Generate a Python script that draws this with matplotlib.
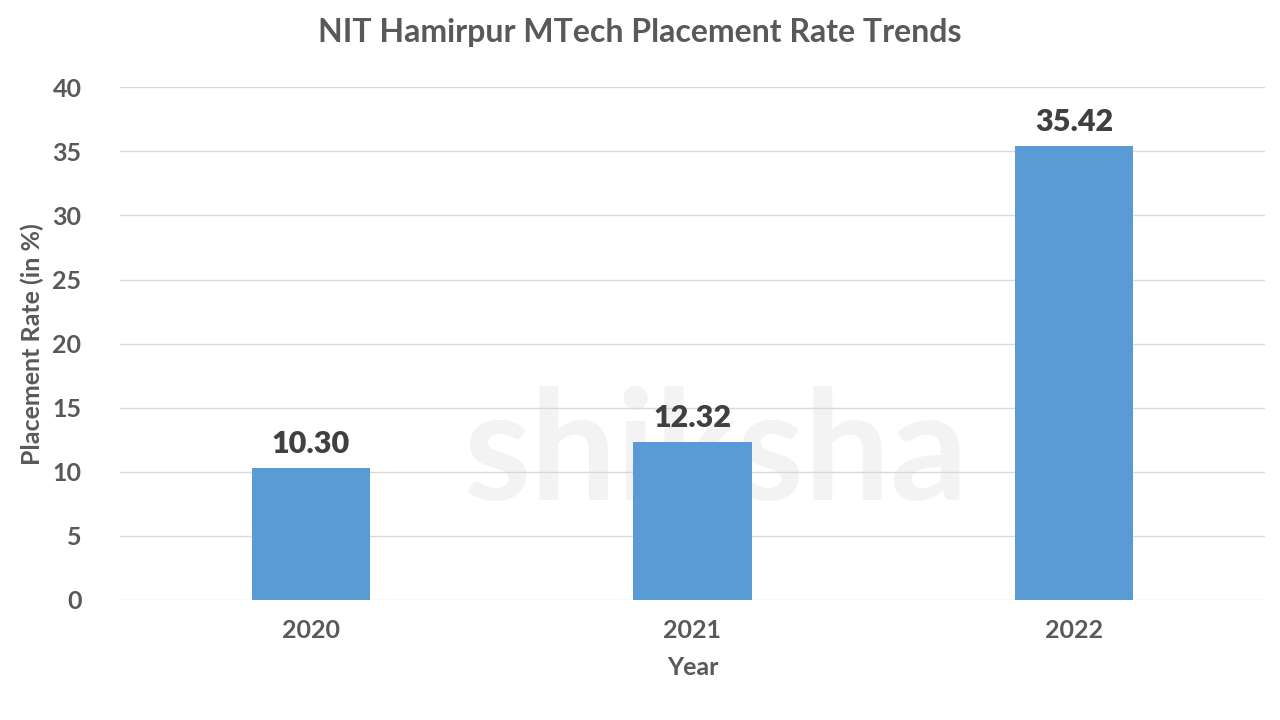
import matplotlib
matplotlib.use("Agg")
import matplotlib.pyplot as plt

years = ["2020", "2021", "2022"]
rates = [10.30, 12.32, 35.42]
y_ticks = [0, 5, 10, 15, 20, 25, 30, 35, 40]

plt.rcParams["font.family"] = ["Lato", "DejaVu Sans"]
plt.rcParams["font.weight"] = "bold"

fig = plt.figure(figsize=(12.8, 7.2), dpi=100)
ax = fig.add_axes([0.094, 0.1667, 0.894, 0.712])

# faint watermark, behind the bars
ax.text(0.52, 0.28, "shiksha", transform=ax.transAxes, fontsize=110,
        color="#F3F3F3", ha="center", va="center", fontweight="bold", zorder=1)

bars = ax.bar(range(len(years)), rates, width=0.31, color="#5B9BD5", zorder=3)
for b, v in zip(bars, rates):
    ax.text(b.get_x() + b.get_width() / 2, v + 0.8, f"{v:.2f}", ha="center",
            va="bottom", fontsize=22, fontweight="heavy", color="#404040", zorder=4)

ax.set_xlim(-0.5, 2.5)
ax.set_ylim(0, 40)
ax.set_yticks(y_ticks)
ax.set_xticks(range(len(years)))
ax.set_xticklabels(years)
ax.tick_params(axis="both", length=0, labelsize=18, colors="#595959")
ax.tick_params(axis="x", pad=14)
ax.tick_params(axis="y", pad=28)
ax.grid(axis="y", color="#D9D9D9", linewidth=1, zorder=0)
for s in ax.spines.values():
    s.set_visible(False)

ax.set_xlabel("Year", fontsize=18, fontweight="bold", color="#595959", labelpad=10)
ax.set_ylabel("Placement Rate (in %)", fontsize=18, fontweight="bold",
              color="#595959", labelpad=6)
fig.suptitle("NIT Hamirpur MTech Placement Rate Trends", x=0.5, y=0.975,
             fontsize=23, fontweight="bold", color="#595959")

fig.savefig("out.png", dpi=100)
